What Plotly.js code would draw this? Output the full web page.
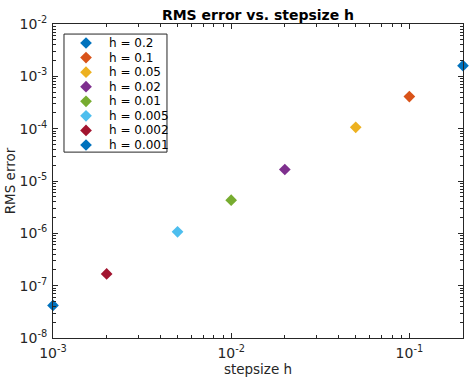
<!DOCTYPE html>
<html><head><meta charset="utf-8">
<script src="https://cdn.plot.ly/plotly-3.0.1.min.js"></script>
<style>html,body{margin:0;padding:0;background:#fff}#chart{width:474px;height:382px}</style>
</head><body><div id="chart"></div>
<script>
const stepsizes = [0.2, 0.1, 0.05, 0.02, 0.01, 0.005, 0.002, 0.001];
const rmsErrors = [1.6e-3, 4.1e-4, 1.06e-4, 1.66e-5, 4.3e-6, 1.07e-6, 1.68e-7, 4.2e-8];
const labels = ["h = 0.2", "h = 0.1", "h = 0.05", "h = 0.02", "h = 0.01", "h = 0.005", "h = 0.002", "h = 0.001"];
const colors = ["#0072BD", "#D95319", "#EDB120", "#7E2F8E", "#77AC30", "#4DBEEE", "#A2142F", "#0072BD"];
const xTickVals = [1e-3, 1e-2, 1e-1];
const xTickText = ["10<sup>-3</sup>", "10<sup>-2</sup>", "10<sup>-1</sup>"];
const yTickVals = [1e-8, 1e-7, 1e-6, 1e-5, 1e-4, 1e-3, 1e-2];
const yTickText = ["10<sup>-8</sup>", "10<sup>-7</sup>", "10<sup>-6</sup>", "10<sup>-5</sup>", "10<sup>-4</sup>", "10<sup>-3</sup>", "10<sup>-2</sup>"];

const font = "DejaVu Sans, Arial, sans-serif";
const axisColor = "#262626";

const traces = stepsizes.map((h, i) => ({
  x: [h], y: [rmsErrors[i]], name: labels[i], type: "scatter", mode: "markers",
  marker: {symbol: "diamond", size: 9, color: colors[i]}, showlegend: false,
  cliponaxis: false, xaxis: "x", yaxis: "y"
}));

// custom legend (compact MATLAB-like spacing)
const legX = 0.0805, legTop = 0.9395, legStep = 0.0464;
const legY = labels.map((_, i) => legTop - i * legStep);
traces.push({
  x: labels.map(() => legX), y: legY, type: "scatter", mode: "markers",
  marker: {symbol: "diamond", size: 9, color: colors}, showlegend: false,
  hoverinfo: "skip", cliponaxis: false, xaxis: "x2", yaxis: "y2"
});
const annotations = labels.map((t, i) => ({
  text: t, xref: "paper", yref: "paper", x: 0.1317, y: legY[i],
  xanchor: "left", yanchor: "middle", showarrow: false,
  font: {family: font, size: 12, color: "#000"}
}));

const axisCommon = {
  type: "log", showline: true, linecolor: axisColor, linewidth: 1,
  mirror: "allticks", ticks: "inside", ticklen: 5, tickcolor: axisColor,
  showgrid: false, zeroline: false, tickmode: "array",
  tickfont: {family: font, size: 14, color: axisColor},
  minor: {ticks: "inside", ticklen: 3, tickcolor: axisColor, showgrid: false, dtick: "D1"}
};

const layout = {
  width: 474, height: 382,
  margin: {l: 53, r: 11, t: 24, b: 44},
  paper_bgcolor: "#fff", plot_bgcolor: "#fff",
  showlegend: false,
  title: {text: "<b>RMS error vs. stepsize h</b>", x: 0.5, xref: "paper", xanchor: "center",
          y: 1, yref: "paper", yanchor: "bottom", pad: {b: 4},
          font: {family: font, size: 14, color: "#000"}},
  xaxis: Object.assign({}, axisCommon, {
    range: [Math.log10(0.001), Math.log10(0.2)], ticklabelstandoff: 2,
    tickvals: xTickVals, ticktext: xTickText,
    title: {text: "stepsize h", standoff: 2, font: {family: font, size: 13.5, color: axisColor}}
  }),
  yaxis: Object.assign({}, axisCommon, {
    range: [-8, -2], ticklabelstandoff: 2,
    tickvals: yTickVals, ticktext: yTickText,
    title: {text: "RMS error", standoff: 0, font: {family: font, size: 13.5, color: axisColor}}
  }),
  xaxis2: {overlaying: "x", range: [0, 1], visible: false, fixedrange: true},
  yaxis2: {overlaying: "y", range: [0, 1], visible: false, fixedrange: true},
  shapes: [{type: "rect", xref: "paper", yref: "paper", x0: 0.0268, x1: 0.278, y0: 0.592, y1: 0.968,
            line: {color: axisColor, width: 1}, fillcolor: "rgba(255,255,255,1)", layer: "below"}],
  annotations: annotations
};

Plotly.newPlot("chart", traces, layout, {displayModeBar: false, staticPlot: true});
</script></body></html>
